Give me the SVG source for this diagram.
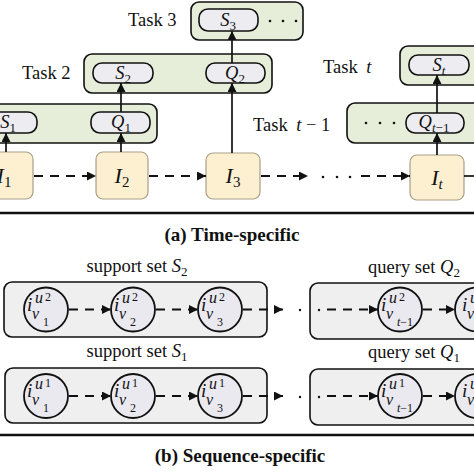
<svg xmlns="http://www.w3.org/2000/svg" width="474" height="474" viewBox="0 0 474 474" font-family="'Liberation Serif','Times New Roman',serif">
<style>
text{font-family:"Liberation Serif","Times New Roman",serif;fill:#111}
.lbl{font-size:18.5px}
.cap{font-size:19px;font-weight:bold}
.m{font-style:italic}
.task{fill:#e6edd9;stroke:#111;stroke-width:1.6}
.pill{fill:#ededf1;stroke:#111;stroke-width:1.6}
.inode{fill:#fdf0d0;stroke:#a99f88;stroke-width:1.2}
.set{fill:#efeff0;stroke:#111;stroke-width:1.6}
.circ{fill:#eae9f0;stroke:#111;stroke-width:1.8}
.arr{stroke:#111;stroke-width:1.7;fill:none}
.dash{stroke:#111;stroke-width:2;fill:none;stroke-dasharray:9 7}
.sep{stroke:#111;stroke-width:2.6}
.dot{fill:#111}
.ci{font-size:19px;font-style:italic}
.cu{font-size:16px;font-style:italic}
.cn{font-size:12px}
</style>
<defs>
<marker id="ah" viewBox="0 0 10 10" refX="10" refY="5" markerWidth="10" markerHeight="9" orient="auto" markerUnits="userSpaceOnUse">
<path d="M0,0 L10,5 L0,10 z" fill="#111"/>
</marker>
</defs>

<!-- (a) Time-specific -->
<g id="task3">
<rect class="task" x="191" y="2" width="112" height="38" rx="8"/>
<rect class="pill" x="199" y="9" width="59" height="22" rx="9"/>
<text class="lbl" x="228" y="26" text-anchor="middle"><tspan class="m">S</tspan><tspan font-size="13" dy="4">3</tspan></text>
<circle class="dot" cx="270" cy="21" r="1.3"/><circle class="dot" cx="283" cy="21" r="1.3"/><circle class="dot" cx="296" cy="21" r="1.3"/>
<text class="lbl" x="128" y="26">Task 3</text>
</g>
<g id="task2">
<rect class="task" x="84" y="54" width="188" height="39" rx="8"/>
<rect class="pill" x="93" y="63" width="60" height="20" rx="9"/>
<text class="lbl" x="123" y="79" text-anchor="middle"><tspan class="m">S</tspan><tspan font-size="13" dy="4">2</tspan></text>
<rect class="pill" x="206" y="63" width="59" height="20" rx="9"/>
<text class="lbl" x="235" y="79" text-anchor="middle"><tspan class="m">Q</tspan><tspan font-size="13" dy="4">2</tspan></text>
<text class="lbl" x="22" y="79">Task 2</text>
</g>
<g id="task1">
<rect class="task" x="-12" y="104" width="169" height="39" rx="8"/>
<rect class="pill" x="-22" y="112" width="59" height="21" rx="9"/>
<text class="lbl" x="8" y="128" text-anchor="middle"><tspan class="m">S</tspan><tspan font-size="13" dy="4">1</tspan></text>
<rect class="pill" x="91" y="112" width="59" height="21" rx="9"/>
<text class="lbl" x="121" y="128" text-anchor="middle"><tspan class="m">Q</tspan><tspan font-size="13" dy="4">1</tspan></text>
</g>
<g id="taskt">
<rect class="task" x="400" y="46" width="90" height="39" rx="8"/>
<rect class="pill" x="409" y="55" width="60" height="20" rx="9"/>
<text class="lbl" x="439" y="71" text-anchor="middle"><tspan class="m">S</tspan><tspan class="m" font-size="13" dy="4">t</tspan></text>
<text class="lbl" x="323" y="73">Task <tspan class="m" dx="4">t</tspan></text>
</g>
<g id="taskt1">
<rect class="task" x="347" y="103" width="143" height="40" rx="8"/>
<circle class="dot" cx="366" cy="123" r="1.3"/><circle class="dot" cx="380" cy="123" r="1.3"/><circle class="dot" cx="394" cy="123" r="1.3"/>
<rect class="pill" x="406" y="113" width="58" height="20" rx="9"/>
<text class="lbl" x="434" y="128" text-anchor="middle"><tspan class="m">Q</tspan><tspan font-size="13" dy="4"><tspan class="m">t</tspan>−1</tspan></text>
<text class="lbl" x="253" y="131" font-size="19">Task <tspan class="m" dx="4">t</tspan> − 1</text>
</g>
<g id="I1">
<rect class="inode" x="-20" y="152" width="53" height="47" rx="7"/>
<text x="4" y="183" font-size="22" text-anchor="middle"><tspan class="m">I</tspan><tspan font-size="15" dy="4">1</tspan></text>
</g>
<g id="I2">
<rect class="inode" x="96" y="152" width="52" height="47" rx="7"/>
<text x="122" y="183" font-size="22" text-anchor="middle"><tspan class="m">I</tspan><tspan font-size="15" dy="4">2</tspan></text>
</g>
<g id="I3">
<rect class="inode" x="206" y="153" width="54" height="46" rx="7"/>
<text x="233" y="183" font-size="22" text-anchor="middle"><tspan class="m">I</tspan><tspan font-size="15" dy="4">3</tspan></text>
</g>
<g id="It">
<rect class="inode" x="410" y="155" width="54" height="45" rx="7"/>
<text x="437" y="185" font-size="22" text-anchor="middle"><tspan class="m">I</tspan><tspan class="m" font-size="15" dy="4">t</tspan></text>
</g>

<g id="connectors-a">
<line class="arr" x1="6" y1="152" x2="6" y2="133" marker-end="url(#ah)"/>
<line class="arr" x1="121" y1="152" x2="121" y2="133" marker-end="url(#ah)"/>
<line class="arr" x1="121" y1="112" x2="121" y2="83" marker-end="url(#ah)"/>
<line class="arr" x1="232" y1="153" x2="232" y2="83" marker-end="url(#ah)"/>
<line class="arr" x1="232" y1="63" x2="232" y2="31" marker-end="url(#ah)"/>
<line class="arr" x1="437" y1="155" x2="437" y2="133" marker-end="url(#ah)"/>
<line class="arr" x1="437" y1="113" x2="437" y2="75" marker-end="url(#ah)"/>
<line class="dash" x1="34" y1="176" x2="96" y2="176" marker-end="url(#ah)"/>
<line class="dash" x1="149" y1="176" x2="206" y2="176" marker-end="url(#ah)"/>
<line class="dash" x1="261" y1="176" x2="308" y2="176" marker-end="url(#ah)"/>
<circle class="dot" cx="323" cy="177" r="1.3"/><circle class="dot" cx="337" cy="177" r="1.3"/><circle class="dot" cx="350" cy="177" r="1.3"/>
<line class="dash" x1="361" y1="176" x2="410" y2="176" marker-end="url(#ah)"/>
<line class="arr" x1="464" y1="176" x2="474" y2="176" stroke-width="2"/>
</g>
<line class="sep" x1="0" y1="213" x2="474" y2="213"/>
<text class="cap" x="232" y="241" text-anchor="middle">(a) Time-specific</text>

<!-- (b) Sequence-specific -->
<text class="lbl" x="137" y="272" text-anchor="middle" font-size="19">support set  <tspan class="m">S</tspan><tspan font-size="13" dy="4">2</tspan></text>
<text class="lbl" x="414" y="273" text-anchor="middle" font-size="19">query set  <tspan class="m">Q</tspan><tspan font-size="13" dy="4">2</tspan></text>
<g id="setS2"><rect class="set" x="4" y="282" width="263" height="55" rx="8"/></g>
<g id="setQ2"><rect class="set" x="310" y="283" width="180" height="56" rx="8"/></g>
<text class="lbl" x="137" y="357" text-anchor="middle" font-size="19">support set  <tspan class="m">S</tspan><tspan font-size="13" dy="4">1</tspan></text>
<text class="lbl" x="414" y="358" text-anchor="middle" font-size="19">query set  <tspan class="m">Q</tspan><tspan font-size="13" dy="4">1</tspan></text>
<g id="setS1"><rect class="set" x="5" y="368" width="262" height="55" rx="8"/></g>
<g id="setQ1"><rect class="set" x="310" y="369" width="180" height="56" rx="8"/></g>

<g id="n-2-1" transform="translate(46,309.5)"><circle class="circ" r="22"/>
<text class="ci" x="-19" y="1">i</text><text class="cu" x="-11" y="-7">u</text><text class="cn" x="-1" y="-9">2</text><text class="cu" x="-14" y="9">v</text><text class="cn" x="-3" y="16">1</text></g>
<g id="n-2-2" transform="translate(133,309.5)"><circle class="circ" r="22"/>
<text class="ci" x="-19" y="1">i</text><text class="cu" x="-11" y="-7">u</text><text class="cn" x="-1" y="-9">2</text><text class="cu" x="-14" y="9">v</text><text class="cn" x="-3" y="16">2</text></g>
<g id="n-2-3" transform="translate(220,309.5)"><circle class="circ" r="22"/>
<text class="ci" x="-19" y="1">i</text><text class="cu" x="-11" y="-7">u</text><text class="cn" x="-1" y="-9">2</text><text class="cu" x="-14" y="9">v</text><text class="cn" x="-3" y="16">3</text></g>
<g id="n-2-t1" transform="translate(400,309.5)"><circle class="circ" r="22"/>
<text class="ci" x="-19" y="1">i</text><text class="cu" x="-11" y="-7">u</text><text class="cn" x="-1" y="-9">2</text><text class="cu" x="-14" y="9">v</text><text class="cn" x="-3" y="16"><tspan class="m">t</tspan>−1</text></g>
<g id="n-2-t" transform="translate(477,309.5)"><circle class="circ" r="22"/>
<text class="ci" x="-15" y="1">i</text><text class="cu" x="-7" y="-7">u</text><text class="cu" x="-10" y="9">v</text></g>

<g id="n-1-1" transform="translate(46,396)"><circle class="circ" r="22"/>
<text class="ci" x="-19" y="1">i</text><text class="cu" x="-11" y="-7">u</text><text class="cn" x="-1" y="-9">1</text><text class="cu" x="-14" y="9">v</text><text class="cn" x="-3" y="16">1</text></g>
<g id="n-1-2" transform="translate(133,396)"><circle class="circ" r="22"/>
<text class="ci" x="-19" y="1">i</text><text class="cu" x="-11" y="-7">u</text><text class="cn" x="-1" y="-9">1</text><text class="cu" x="-14" y="9">v</text><text class="cn" x="-3" y="16">2</text></g>
<g id="n-1-3" transform="translate(220,396)"><circle class="circ" r="22"/>
<text class="ci" x="-19" y="1">i</text><text class="cu" x="-11" y="-7">u</text><text class="cn" x="-1" y="-9">1</text><text class="cu" x="-14" y="9">v</text><text class="cn" x="-3" y="16">3</text></g>
<g id="n-1-t1" transform="translate(400,396)"><circle class="circ" r="22"/>
<text class="ci" x="-19" y="1">i</text><text class="cu" x="-11" y="-7">u</text><text class="cn" x="-1" y="-9">1</text><text class="cu" x="-14" y="9">v</text><text class="cn" x="-3" y="16"><tspan class="m">t</tspan>−1</text></g>
<g id="n-1-t" transform="translate(477,396)"><circle class="circ" r="22"/>
<text class="ci" x="-15" y="1">i</text><text class="cu" x="-7" y="-7">u</text><text class="cu" x="-10" y="9">v</text></g>

<g id="connectors-b">
<line class="dash" x1="69" y1="309.5" x2="111" y2="309.5" marker-end="url(#ah)"/>
<line class="dash" x1="156" y1="309.5" x2="198" y2="309.5" marker-end="url(#ah)"/>
<line class="dash" x1="243" y1="309.5" x2="283" y2="309.5" marker-end="url(#ah)"/>
<circle class="dot" cx="300" cy="310" r="1.2"/><circle class="dot" cx="319" cy="310" r="1.2"/>
<line class="dash" x1="327" y1="309.5" x2="378" y2="309.5" marker-end="url(#ah)"/>
<line class="dash" x1="423" y1="309.5" x2="455" y2="309.5" marker-end="url(#ah)"/>
<line class="dash" x1="69" y1="396" x2="111" y2="396" marker-end="url(#ah)"/>
<line class="dash" x1="156" y1="396" x2="198" y2="396" marker-end="url(#ah)"/>
<line class="dash" x1="243" y1="396" x2="283" y2="396" marker-end="url(#ah)"/>
<circle class="dot" cx="300" cy="397" r="1.2"/><circle class="dot" cx="319" cy="397" r="1.2"/>
<line class="dash" x1="327" y1="396" x2="378" y2="396" marker-end="url(#ah)"/>
<line class="dash" x1="423" y1="396" x2="455" y2="396" marker-end="url(#ah)"/>
</g>
<line class="sep" x1="0" y1="435" x2="474" y2="435"/>
<text class="cap" x="240" y="462" text-anchor="middle">(b) Sequence-specific</text>
</svg>
